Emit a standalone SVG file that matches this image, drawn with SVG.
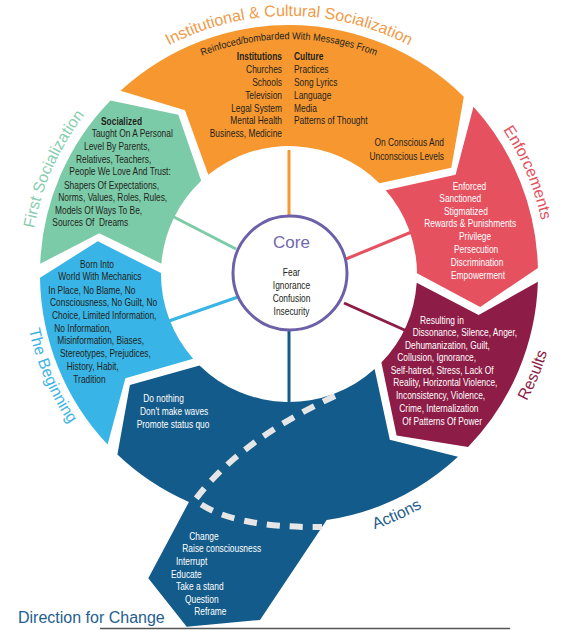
<svg xmlns="http://www.w3.org/2000/svg" width="583" height="630" viewBox="0 0 583 630">
<style>
.body{font-family:"Liberation Sans",Arial,sans-serif;font-size:10px;fill:#231F20}
.w{fill:#FFFFFF}
.b{font-weight:bold}
.title{font-family:"Liberation Sans",Arial,sans-serif;font-size:16px}
.con{stroke-width:3;fill:none}
</style>
<defs>
<path id="pTop" d="M34.9,229.2 A258,258 0 0 1 543.1,229.2"/>
<path id="pSub" d="M57.6,233.2 A235,235 0 0 1 520.4,233.2"/>
<path id="pFirst" d="M40,345.4 A259,259 0 0 1 175.5,41.2"/>
<path id="pEnf" d="M406.1,44.1 A258,258 0 0 1 535.7,349.4"/>
<path id="pRes" d="M413.7,513.5 A271,271 0 0 0 546.5,192.8"/>
<path id="pAct" d="M215.3,532.7 A269,269 0 0 0 531,391.5"/>
<path id="pBeg" d="M34.4,197.1 A266,266 0 0 0 169.1,511.4"/>
</defs>
<rect width="583" height="630" fill="#FFFFFF"/>

<g id="connectors">
<line class="con" x1="289" y1="216" x2="289" y2="150" stroke="#F7972F"/>
<line class="con" x1="236" y1="249" x2="172" y2="216" stroke="#7CCBA8"/>
<line class="con" x1="238" y1="297" x2="166" y2="322" stroke="#38B4E6"/>
<line class="con" x1="346" y1="259" x2="414" y2="231" stroke="#E5515F"/>
<line class="con" x1="344" y1="303" x2="409" y2="332" stroke="#8D1C46"/>
<line class="con" x1="289" y1="329" x2="289" y2="405" stroke="#135B8A"/>
</g>

<g id="institutional">
<path d="M120.5,90.7 A249,249 0 0 1 463.8,96.7 L451.3,167.8 L379.4,183.3 A128,128 0 0 0 208.3,174.7 L185,110.2 Z" fill="#F7972F"/>
<text class="title" fill="#F29A48"><textPath href="#pTop" startOffset="50%" text-anchor="middle">Institutional &amp; Cultural Socialization</textPath></text>
<text class="body"><textPath href="#pSub" startOffset="50%" text-anchor="middle" textLength="178" lengthAdjust="spacingAndGlyphs">Reinfoced/bombarded With Messages From</textPath></text>
<text transform="translate(282 60) scale(.84 1)" class="body b" text-anchor="end">Institutions</text>
<text transform="translate(282 73) scale(.84 1)" class="body" text-anchor="end">Churches</text>
<text transform="translate(282 86) scale(.84 1)" class="body" text-anchor="end">Schools</text>
<text transform="translate(282 98.5) scale(.84 1)" class="body" text-anchor="end">Television</text>
<text transform="translate(282 111.5) scale(.84 1)" class="body" text-anchor="end">Legal System</text>
<text transform="translate(282 124) scale(.84 1)" class="body" text-anchor="end">Mental Health</text>
<text transform="translate(282 137) scale(.84 1)" class="body" text-anchor="end">Business, Medicine</text>
<text transform="translate(294 60) scale(.84 1)" class="body b">Culture</text>
<text transform="translate(294 73) scale(.84 1)" class="body">Practices</text>
<text transform="translate(294 86) scale(.84 1)" class="body">Song Lyrics</text>
<text transform="translate(294 98.5) scale(.84 1)" class="body">Language</text>
<text transform="translate(294 111.5) scale(.84 1)" class="body">Media</text>
<text transform="translate(294 124) scale(.84 1)" class="body">Patterns of Thought</text>
<text transform="translate(444 146) scale(.84 1)" class="body" text-anchor="end">On Conscious And</text>
<text transform="translate(444 159.5) scale(.84 1)" class="body" text-anchor="end">Unconscious Levels</text>
</g>

<g id="first-socialization">
<path d="M40.2,263.8 A249,249 0 0 1 110.5,100.4 L178.3,114.7 L201.2,180.8 A128,128 0 0 0 161.4,263.7 L99.3,233.3 Z" fill="#7CCBA8"/>
<text class="title" fill="#86CEAE"><textPath href="#pFirst" startOffset="50%" text-anchor="middle">First Socialization</textPath></text>
<text transform="translate(101 125) scale(.84 1)" class="body b">Socialized</text>
<text transform="translate(91.7 137) scale(.84 1)" class="body">Taught On A Personal</text>
<text transform="translate(84 150) scale(.84 1)" class="body">Level By Parents,</text>
<text transform="translate(76 163) scale(.84 1)" class="body">Relatives, Teachers,</text>
<text transform="translate(69.3 175) scale(.84 1)" class="body">People We Love And Trust:</text>
<text transform="translate(64 188.5) scale(.84 1)" class="body">Shapers Of Expectations,</text>
<text transform="translate(58.3 201) scale(.84 1)" class="body">Norms, Values, Roles, Rules,</text>
<text transform="translate(55 213.5) scale(.84 1)" class="body">Models Of Ways To Be,</text>
<text transform="translate(52.3 226) scale(.84 1)" class="body">Sources Of&#160; Dreams</text>
</g>

<g id="beginning">
<path d="M107.6,444.6 A249,249 0 0 1 40,277.7 L97.8,241.3 L161,273.1 A128,128 0 0 0 193.1,358.7 L125.4,378.2 Z" fill="#38B4E6"/>
<text class="title" fill="#3CB4E5"><textPath href="#pBeg" startOffset="50%" text-anchor="middle">The Beginning</textPath></text>
<text transform="translate(80 267.5) scale(.84 1)" class="body">Born Into</text>
<text transform="translate(58.3 280) scale(.84 1)" class="body">World With Mechanics</text>
<text transform="translate(48.3 293.5) scale(.84 1)" class="body">In Place, No Blame, No</text>
<text transform="translate(50 306) scale(.84 1)" class="body">Consciousness, No Guilt, No</text>
<text transform="translate(52 318.5) scale(.84 1)" class="body">Choice, Limited Information,</text>
<text transform="translate(54.3 332) scale(.84 1)" class="body">No Information,</text>
<text transform="translate(57.3 343.5) scale(.84 1)" class="body">Misinformation, Biases,</text>
<text transform="translate(60 357) scale(.84 1)" class="body">Stereotypes, Prejudices,</text>
<text transform="translate(66.7 370) scale(.84 1)" class="body">History, Habit,</text>
<text transform="translate(73.3 382.5) scale(.84 1)" class="body">Tradition</text>
</g>

<g id="enforcements">
<path d="M473.5,106.7 A249,249 0 0 1 537.9,267.9 L480.2,307 L417,273.3 A128,128 0 0 0 385.7,190.2 L455.6,174.7 Z" fill="#E5515F"/>
<text class="title" fill="#E4505E"><textPath href="#pEnf" startOffset="50%" text-anchor="middle">Enforcements</textPath></text>
<text transform="translate(452.7 189.5) scale(.84 1)" class="body w">Enforced</text>
<text transform="translate(439.3 202) scale(.84 1)" class="body w">Sanctioned</text>
<text transform="translate(444 214.5) scale(.84 1)" class="body w">Stigmatized</text>
<text transform="translate(424.3 227) scale(.84 1)" class="body w">Rewards &amp; Punishments</text>
<text transform="translate(459 240) scale(.84 1)" class="body w">Privilege</text>
<text transform="translate(454 253) scale(.84 1)" class="body w">Persecution</text>
<text transform="translate(450.7 266) scale(.84 1)" class="body w">Discrimination</text>
<text transform="translate(451 278.5) scale(.84 1)" class="body w">Empowerment</text>
</g>

<g id="results">
<path d="M537.9,281.8 A249,249 0 0 1 468.1,447 L396.6,435.4 L381.4,362.6 A128,128 0 0 0 416.7,282.7 L478.6,315 Z" fill="#8D1C46"/>
<text class="title" fill="#8D1C46"><textPath href="#pRes" startOffset="50%" text-anchor="middle">Results</textPath></text>
<text transform="translate(420 323.5) scale(.84 1)" class="body w">Resulting in</text>
<text transform="translate(412.7 336) scale(.84 1)" class="body w">Dissonance, Silence, Anger,</text>
<text transform="translate(405 348.5) scale(.84 1)" class="body w">Dehumanization, Guilt,</text>
<text transform="translate(397.3 361) scale(.84 1)" class="body w">Collusion, Ignorance,</text>
<text transform="translate(390.7 373.5) scale(.84 1)" class="body w">Self-hatred, Stress, Lack Of</text>
<text transform="translate(393.3 386) scale(.84 1)" class="body w">Reality, Horizontal Violence,</text>
<text transform="translate(396 399) scale(.84 1)" class="body w">Inconsistency, Violence,</text>
<text transform="translate(399.3 412) scale(.84 1)" class="body w">Crime, Internalization</text>
<text transform="translate(402.3 424.5) scale(.84 1)" class="body w">Of Patterns Of Power</text>
</g>

<g id="actions">
<path d="M458,456.8 A249,249 0 0 1 326.7,520.1 L260,620 L186.7,626.7 L148.3,578.3 L188.9,502 A249,249 0 0 1 117.4,454.5 L129.9,385 L199.5,365.5 A128,128 0 0 0 374.6,369.1 L389.8,439.8 Z" fill="#135B8A"/>
<path d="M335,396 Q240,440 195,500 Q230,528 322,527" fill="none" stroke="#E6E6E6" stroke-width="6" stroke-dasharray="13 10"/>
<text class="title" fill="#1F5E8E"><textPath href="#pAct" startOffset="50%" text-anchor="middle">Actions</textPath></text>
<text transform="translate(143.3 402) scale(.84 1)" class="body w">Do nothing</text>
<text transform="translate(140 415) scale(.84 1)" class="body w">Don't make waves</text>
<text transform="translate(136.7 428) scale(.84 1)" class="body w">Promote status quo</text>
<text transform="translate(189.3 539.5) scale(.84 1)" class="body w">Change</text>
<text transform="translate(182.3 552) scale(.84 1)" class="body w">Raise consciousness</text>
<text transform="translate(176 564.5) scale(.84 1)" class="body w">Interrupt</text>
<text transform="translate(171 577.5) scale(.84 1)" class="body w">Educate</text>
<text transform="translate(176 590) scale(.84 1)" class="body w">Take a stand</text>
<text transform="translate(185 602.5) scale(.84 1)" class="body w">Question</text>
<text transform="translate(194.3 615) scale(.84 1)" class="body w">Reframe</text>
</g>

<g id="direction-for-change">
<text x="18" y="623" class="title" fill="#1F5E91">Direction for Change</text>
<line x1="100" y1="628.5" x2="510" y2="628.5" stroke="#555555" stroke-width="1.5"/>
</g>

<g id="core">
<circle cx="290" cy="273" r="57" fill="#FFFFFF" stroke="#6C60A8" stroke-width="3"/>
<text x="291.5" y="247.5" font-family="Liberation Sans, Arial, sans-serif" font-size="17" fill="#7168AC" text-anchor="middle">Core</text>
<text transform="translate(291.5 276) scale(.84 1)" class="body" text-anchor="middle">Fear</text>
<text transform="translate(291.5 289) scale(.84 1)" class="body" text-anchor="middle">Ignorance</text>
<text transform="translate(291.5 302) scale(.84 1)" class="body" text-anchor="middle">Confusion</text>
<text transform="translate(291.5 314.5) scale(.84 1)" class="body" text-anchor="middle">Insecurity</text>
</g>
</svg>
